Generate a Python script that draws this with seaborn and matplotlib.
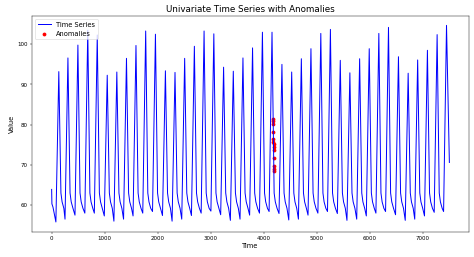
import numpy as np
import pandas as pd
import matplotlib
matplotlib.use("Agg")
import matplotlib.pyplot as plt
import seaborn as sns

# Peaks of each cycle (time, value)
peak_times = [135, 307, 495, 681, 860, 1048, 1229, 1411, 1590, 1773, 1957,
              2145, 2326, 2508, 2691, 2874, 3058, 3242, 3425, 3607, 3788,
              3974, 4155, 4342, 4526, 4708, 4889, 5075, 5256, 5442, 5623,
              5807, 5988, 6169, 6351, 6539, 6722, 6901, 7085, 7268, 7445]
peak_values = [93.2, 96.6, 99.8, 103.5, 102.3, 92.3, 93.1, 96.5, 99.7, 103.3,
               102.5, 93.4, 93.0, 96.5, 99.5, 103.3, 102.6, 94.3, 93.3, 96.6,
               99.1, 103.0, 103.0, 95.0, 93.1, 96.4, 98.9, 102.7, 103.7, 96.0,
               92.9, 96.4, 98.9, 102.7, 104.2, 96.9, 92.8, 96.1, 98.5, 102.4,
               104.7]
# Minimum just before each peak
trough_values = [55.8, 56.5, 57.5, 58.0, 58.0, 57.3, 56.0, 56.5, 57.3, 58.0,
                 58.4, 57.4, 56.0, 56.5, 57.4, 58.0, 58.5, 57.6, 56.2, 56.5,
                 57.5, 58.0, 58.4, 57.9, 56.3, 56.5, 57.5, 58.0, 58.4, 57.9,
                 56.2, 56.5, 57.3, 58.0, 58.4, 57.6, 56.2, 56.5, 57.3, 58.2,
                 58.4]
trough_lead = 55  # time from minimum to peak

# Decay after a peak (offset from peak, level)
decay_offsets = [40, 62, 95]
decay_levels = [63.0, 60.8, 59.2]

# Beginning and end of the series
start_times = [0, 5, 25, 43]
start_values = [63.9, 60.3, 59.5, 58.3]
end_time = 7499
end_value = 70.6

# Anomalies (all on the falling edge of one spike)
anomaly_times = [4177, 4177, 4178, 4180, 4182, 4182, 4183, 4184, 4184,
                 4186, 4188, 4189, 4189]
anomaly_values = [81.4, 80.8, 80.1, 78.3, 76.4, 75.8, 75.2, 74.4, 73.7,
                  71.6, 69.6, 69.0, 68.6]

# Assemble the series vertices
times = list(start_times)
values = list(start_values)
for i, (p, pv, tv) in enumerate(zip(peak_times, peak_values, trough_values)):
    times += [p - trough_lead, p]
    values += [tv, pv]
    if i < len(peak_times) - 1:
        times += [p + o for o in decay_offsets]
        values += decay_levels
times.append(end_time)
values.append(end_value)

series = pd.DataFrame({'Time': times, 'Value': values})
anomalies = pd.DataFrame({'Time': anomaly_times, 'Value': anomaly_values})

plt.rcParams['font.family'] = ['DejaVu Sans']

fig, ax = plt.subplots(figsize=(12, 6.51), dpi=39.5)
sns.scatterplot(data=anomalies, x='Time', y='Value', color='red', s=48,
                linewidth=0, label='Anomalies', ax=ax, zorder=1)
sns.lineplot(data=series, x='Time', y='Value', color='blue', sort=False,
             estimator=None, linewidth=1.8, label='Time Series', ax=ax, zorder=2)

ax.set_title('Univariate Time Series with Anomalies', fontsize=16)
ax.set_xlabel('Time', fontsize=12)
ax.set_ylabel('Value', fontsize=12)
ax.tick_params(labelsize=10)
handles, labels = ax.get_legend_handles_labels()
order = [labels.index('Time Series'), labels.index('Anomalies')]
ax.legend([handles[i] for i in order], [labels[i] for i in order],
          loc='upper left', fontsize=12)

plt.subplots_adjust(left=0.067, right=0.990, top=0.939, bottom=0.098)
plt.savefig('out.png', dpi=39.5)
plt.close()
